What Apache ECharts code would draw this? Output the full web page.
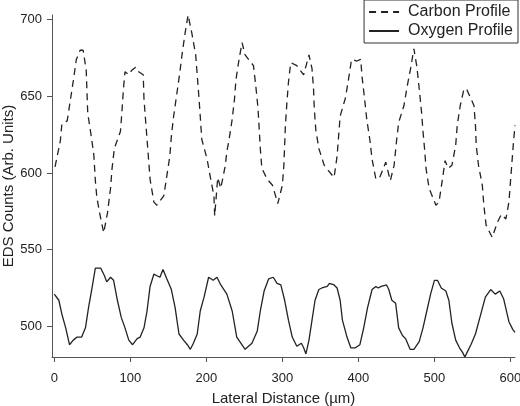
<!DOCTYPE html>
<html>
<head>
<meta charset="utf-8">
<script src="https://cdn.jsdelivr.net/npm/echarts@6/dist/echarts.min.js"></script>
<style>
    html, body { margin: 0; padding: 0; background: #fff; }
    #chart { width: 520px; height: 406px; }
</style>
</head>
<body>
<div id="chart"></div>
<script>
// lateral distance (µm) of each read point
var carbonX = [1, 8, 10, 17, 21, 25, 29, 34, 38, 42, 44, 48, 52, 54, 56, 60, 65, 70, 74, 76, 79, 87, 89, 91, 93, 98, 102, 107, 111, 117, 118, 120, 122, 124, 126, 131, 135, 144, 148, 152,
    154, 157, 161, 165, 168, 172, 176, 181, 186, 188, 190, 192, 194, 201, 205, 210, 211, 215, 219, 225, 227, 230, 234, 237, 239, 243, 247, 251, 262, 265, 268, 271, 273, 280, 287, 294,
    300, 302, 303, 304, 306, 308, 311, 319, 328, 335, 339, 341, 342, 344, 348, 355, 368, 372, 374, 376, 383, 387, 391, 398, 403, 405, 408, 411, 415, 418, 423, 428, 436, 442, 447, 450,
    453, 460, 464, 469, 473, 477, 480, 483, 485, 487, 489, 493, 502, 506, 510, 514, 518, 523, 528, 530, 534, 539, 543, 552, 554, 555, 558, 563, 565, 568, 576, 583, 588, 594, 598, 600,
    602, 604, 606];
var carbonY = [604, 621, 632, 634, 647, 660, 674, 680, 680, 667, 639, 626, 612, 595, 584, 573, 561, 574, 590, 603, 616, 627, 640, 655, 666, 664, 667, 669, 666, 664, 648, 635, 622, 609, 596, 581, 579, 585, 598, 611,
    624, 637, 651, 665, 677, 691, 703, 691, 677, 664, 651, 637, 622, 609, 598, 585, 572, 597, 590, 605, 614, 622, 635, 648, 661, 674, 685, 677, 670, 657, 642, 616, 603, 596, 592, 580,
    592, 605, 618, 631, 646, 659, 672, 670, 664, 677, 668, 655, 642, 628, 616, 605, 597, 611, 624, 637, 649, 661, 674, 673, 674, 662, 649, 635, 622, 609, 596, 597, 607, 595, 605, 620,
    633, 644, 656, 669, 681, 669, 655, 640, 627, 616, 603, 590, 579, 581, 594, 608, 603, 605, 618, 631, 644, 655, 654, 644, 631, 618, 605, 592, 579, 566, 558, 568, 573, 570, 581, 594,
    607, 620, 631];
var oxygenX = [0, 6, 10, 15, 20, 25, 30, 36, 41, 45, 50, 54, 56, 61, 66, 69, 74, 78, 83, 88, 93, 98, 103, 109, 113, 118, 122, 126, 131, 135, 139, 143, 148, 154, 159, 164, 170, 175, 179, 183,
    188, 192, 197, 203, 209, 214, 219, 227, 234, 240, 251, 260, 267, 271, 276, 282, 288, 293, 298, 303, 308, 313, 319, 325, 328, 331, 335, 339, 343, 348, 352, 359, 362, 368, 372, 376,
    379, 385, 390, 396, 402, 407, 412, 418, 423, 426, 430, 437, 440, 444, 449, 453, 458, 462, 468, 473, 480, 485, 490, 495, 500, 504, 509, 515, 519, 523, 528, 533, 537, 540, 543, 548,
    554, 561, 567, 574, 580, 586, 591, 598, 603, 606];
var oxygenY = [521, 517, 508, 499, 488, 491, 493, 493, 499, 512, 526, 538, 539, 538, 533, 529, 532, 530, 517, 506, 499, 491, 488, 492, 493, 499, 510, 526, 534, 533, 532, 537, 531, 524, 512, 495, 491, 488, 485, 489,
    495, 510, 519, 532, 530, 532, 527, 521, 510, 493, 485, 489, 497, 510, 523, 531, 532, 528, 527, 517, 504, 493, 487, 489, 486, 482, 491, 504, 517, 524, 525, 526, 528, 527, 525, 517,
    504, 493, 486, 486, 488, 499, 512, 524, 526, 525, 526, 527, 524, 517, 515, 499, 494, 492, 485, 485, 490, 499, 510, 521, 530, 530, 525, 523, 517, 502, 491, 486, 483, 480, 483, 488,
    495, 508, 519, 524, 521, 523, 518, 503, 498, 496];

var xTicks = [0, 100, 200, 300, 400, 500, 600];
var yTicks = [500, 550, 600, 650, 700];

function pairs(xs, ys) {
    var out = [];
    for (var i = 0; i < xs.length; i++) out.push([xs[i], ys[i]]);
    return out;
}

var axisColor = '#555';
var textColor = '#222';
var font = 'Liberation Sans, Arial, sans-serif';

var options = {
    animation: false,
    backgroundColor: '#fff',
    textStyle: { fontFamily: font, color: textColor },
    grid: { left: 52, right: 5, top: 15, bottom: 49, containLabel: false, outerBoundsMode: 'none' },
    legend: {
        orient: 'vertical',
        right: 2,
        top: 0,
        padding: [4, 5, 4, 4],
        itemGap: 3,
        itemWidth: 30,
        itemHeight: 16,
        borderColor: '#333',
        borderWidth: 1,
        backgroundColor: '#fff',
        itemStyle: { opacity: 0 },
        textStyle: { fontSize: 16, color: textColor, fontFamily: font, padding: [0, 0, 0, 4] },
        data: ['Carbon Profile', 'Oxygen Profile']
    },
    xAxis: {
        type: 'value',
        min: -3,
        max: 606,
        name: 'Lateral Distance (µm)',
        nameLocation: 'middle',
        nameGap: 34,
        nameMoveOverlap: false,
        nameTextStyle: { fontSize: 15, color: textColor },
        splitLine: { show: false },
        axisLine: { onZero: false, lineStyle: { color: axisColor, width: 1 } },
        axisTick: { inside: false, length: 5, customValues: xTicks, lineStyle: { color: axisColor } },
        axisLabel: { margin: 15, fontSize: 13, color: textColor, customValues: xTicks }
    },
    yAxis: {
        type: 'value',
        min: 480,
        max: 703,
        name: 'EDS Counts (Arb. Units)',
        nameLocation: 'middle',
        nameGap: 36,
        nameMoveOverlap: false,
        nameTextStyle: { fontSize: 15, color: textColor },
        splitLine: { show: false },
        axisLine: { show: true, onZero: false, lineStyle: { color: axisColor, width: 1 } },
        axisTick: { show: true, inside: false, length: 5, customValues: yTicks, lineStyle: { color: axisColor } },
        axisLabel: { margin: 10, fontSize: 13, color: textColor, customValues: yTicks }
    },
    series: [
        {
            name: 'Carbon Profile',
            type: 'line',
            showSymbol: false,
            symbol: 'none',
            data: pairs(carbonX, carbonY),
            itemStyle: { color: '#222' },
            lineStyle: { color: '#222', width: 1.3, type: [7, 5] }
        },
        {
            name: 'Oxygen Profile',
            type: 'line',
            showSymbol: false,
            symbol: 'none',
            data: pairs(oxygenX, oxygenY),
            itemStyle: { color: '#222' },
            lineStyle: { color: '#222', width: 1.3 }
        }
    ]
};

var myChart = echarts.init(document.getElementById('chart'));
myChart.setOption(options);
</script>
</body>
</html>
